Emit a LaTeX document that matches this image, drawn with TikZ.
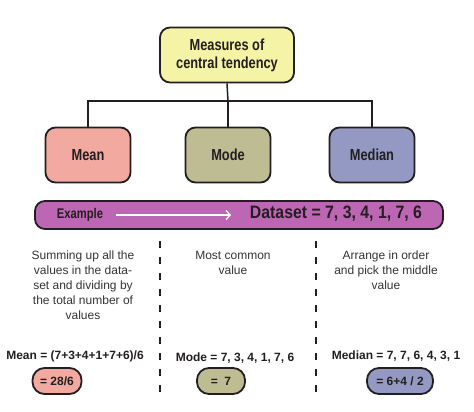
\documentclass[tikz,border=0pt]{standalone}
\usepackage{fontspec}
\setmainfont{Liberation Sans}
\newfontfamily\condfont{Liberation Sans}[FakeStretch=0.8]
\newfontfamily\dsfont{Liberation Sans}[FakeStretch=0.88]
\usetikzlibrary{arrows.meta}
\definecolor{edge}{HTML}{231F20}
\definecolor{ttl}{HTML}{F5F3A5}
\definecolor{meanc}{HTML}{F1A9A0}
\definecolor{modec}{HTML}{BDBC93}
\definecolor{medc}{HTML}{9399C2}
\definecolor{barc}{HTML}{BD66B4}
\definecolor{txt}{HTML}{333333}
\tikzset{
  box/.style={draw=edge, line width=1.8pt, rounded corners=10pt, minimum width=85pt, minimum height=55pt, inner sep=0pt, text=edge, font=\condfont\bfseries\fontsize{16}{18}\selectfont},
  pill/.style={draw=edge, line width=1.8pt, rounded corners=12pt, minimum height=26pt, inner sep=0pt, text=edge, font=\bfseries\fontsize{12}{14}\selectfont},
  desc/.style={anchor=north, align=center, inner sep=0pt, text=txt, font=\fontsize{12}{15}\selectfont},
  eqn/.style={inner sep=0pt, text=edge, font=\bfseries\fontsize{12}{14}\selectfont},
  conn/.style={draw=edge, line width=1.5pt},
  sep/.style={draw=edge, line width=1.5pt, dash pattern=on 7pt off 9pt}
}
\begin{document}
\begin{tikzpicture}[x=1pt,y=-1pt]
\useasboundingbox (0,0) rectangle (474,412);
% title
\node[box, fill=ttl, minimum width=134pt, align=center] (title) at (227,55) {Measures of\\central tendency};
\node[box, fill=meanc] (mean) at (88,155) {Mean};
\node[box, fill=modec] (mode) at (228,155) {Mode};
\node[box, fill=medc] (median) at (372,155) {Median};
\coordinate (bus) at (228,101);
\draw[conn] (title.south) -- (bus);
\draw[conn] (mean.north) |- (bus) -| (median.north);
\draw[conn] (mode.north) -- (bus);
% example bar
\node[draw=edge, line width=1.8pt, fill=barc, rounded corners=10pt, minimum width=408pt, minimum height=28pt, inner sep=0pt] (bar) at (239,215) {};
\node[text=edge, inner sep=0pt, font=\condfont\bfseries\fontsize{14}{16}\selectfont] (ex) at (80,215) {Example};
\node[text=edge, inner sep=0pt, font=\dsfont\bfseries\fontsize{18}{20}\selectfont] (ds) at (336,214) {Dataset = 7, 3, 4, 1, 7, 6};
\coordinate (arrS) at (116,215);
\coordinate (arrE) at (231,215);
\draw[white, line width=1.3pt, -{Straight Barb[length=4pt,width=9pt]}] (arrS) -- (arrE);
% separators
\coordinate (s1a) at (160,241); \coordinate (s1b) at (160,396);
\coordinate (s2a) at (316,241); \coordinate (s2b) at (316,396);
\draw[sep] (s1a) -- (s1b);
\draw[sep] (s2a) -- (s2b);
% descriptions
\node[desc] (dmean) at (83,251) {Summing up all the\\values in the data-\\set and dividing by\\the total number of\\values};
\node[desc] (dmode) at (233,251) {Most common\\value};
\node[desc] (dmed) at (386,251) {Arrange in order\\and pick the middle\\value};
% equations
\node[eqn] (emean) at (75,356) {Mean = (7+3+4+1+7+6)/6};
\node[eqn] (emode) at (235,358) {Mode = 7, 3, 4, 1, 7, 6};
\node[eqn] (emed) at (396,356) {Median = 7, 7, 6, 4, 3, 1};
\node[pill, fill=meanc, minimum width=49pt] (rmean) at (57,381) {= 28/6};
\node[pill, fill=modec, minimum width=48pt] (rmode) at (221,381) {=\ \ 7};
\node[pill, fill=medc, minimum width=66pt] (rmed) at (400,381) {= 6+4 / 2};
\end{tikzpicture}
\end{document}
